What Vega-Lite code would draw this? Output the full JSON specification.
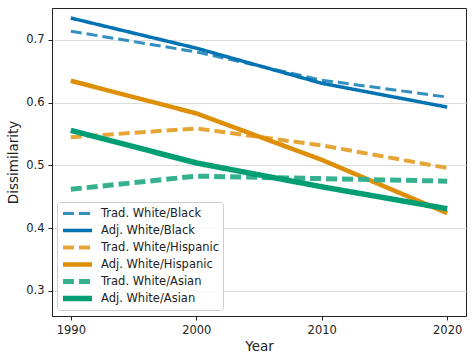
{
  "$schema": "https://vega.github.io/schema/vega-lite/v6.json",
  "width": 414,
  "height": 308,
  "autosize": {"type": "none"},
  "padding": {"left": 52, "top": 8, "right": 8, "bottom": 45},
  "background": "white",
  "config": {
    "font": "DejaVu Sans",
    "view": {"stroke": "#222", "strokeWidth": 1},
    "axis": {
      "labelFont": "DejaVu Sans",
      "titleFont": "DejaVu Sans",
      "labelFontSize": 11.5,
      "titleFontSize": 13.5,
      "titleFontWeight": "normal",
      "labelColor": "#222",
      "titleColor": "#222",
      "tickColor": "#222",
      "domainColor": "#222",
      "tickSize": 4
    },
    "legend": {
      "labelFont": "DejaVu Sans",
      "labelFontSize": 11.5,
      "labelColor": "#222"
    }
  },
  "data": {
    "values": [
      {"series": "Trad. White/Black", "year": 1990, "value": 0.714},
      {"series": "Trad. White/Black", "year": 2000, "value": 0.681},
      {"series": "Trad. White/Black", "year": 2010, "value": 0.636},
      {"series": "Trad. White/Black", "year": 2020, "value": 0.609},
      {"series": "Adj. White/Black", "year": 1990, "value": 0.735},
      {"series": "Adj. White/Black", "year": 2000, "value": 0.687},
      {"series": "Adj. White/Black", "year": 2010, "value": 0.631},
      {"series": "Adj. White/Black", "year": 2020, "value": 0.593},
      {"series": "Trad. White/Hispanic", "year": 1990, "value": 0.545},
      {"series": "Trad. White/Hispanic", "year": 2000, "value": 0.559},
      {"series": "Trad. White/Hispanic", "year": 2010, "value": 0.532},
      {"series": "Trad. White/Hispanic", "year": 2020, "value": 0.496},
      {"series": "Adj. White/Hispanic", "year": 1990, "value": 0.635},
      {"series": "Adj. White/Hispanic", "year": 2000, "value": 0.583},
      {"series": "Adj. White/Hispanic", "year": 2010, "value": 0.509},
      {"series": "Adj. White/Hispanic", "year": 2020, "value": 0.424},
      {"series": "Trad. White/Asian", "year": 1990, "value": 0.462},
      {"series": "Trad. White/Asian", "year": 2000, "value": 0.483},
      {"series": "Trad. White/Asian", "year": 2010, "value": 0.479},
      {"series": "Trad. White/Asian", "year": 2020, "value": 0.475},
      {"series": "Adj. White/Asian", "year": 1990, "value": 0.556},
      {"series": "Adj. White/Asian", "year": 2000, "value": 0.504},
      {"series": "Adj. White/Asian", "year": 2010, "value": 0.466},
      {"series": "Adj. White/Asian", "year": 2020, "value": 0.431}
    ]
  },
  "layer": [
    {
      "mark": {"type": "line", "strokeCap": "butt", "strokeJoin": "round"},
      "encoding": {
        "x": {
          "field": "year",
          "type": "quantitative",
          "scale": {"domain": [1988.5, 2021.5], "nice": false, "zero": false},
          "axis": {"values": [1990, 2000, 2010, 2020], "format": "d", "grid": false, "title": "Year", "titlePadding": 4, "labelPadding": 4}
        },
        "y": {
          "field": "value",
          "type": "quantitative",
          "scale": {"domain": [0.26, 0.751], "nice": false, "zero": false},
          "axis": {"values": [0.3, 0.4, 0.5, 0.6, 0.7], "format": ".1f", "grid": true, "gridColor": "#dddddd", "gridWidth": 1, "title": "Dissimilarity", "titlePadding": 5, "labelPadding": 4}
        },
        "color": {
          "field": "series",
          "type": "nominal",
          "scale": {
            "domain": ["Trad. White/Black", "Adj. White/Black", "Trad. White/Hispanic", "Adj. White/Hispanic", "Trad. White/Asian", "Adj. White/Asian"],
            "range": ["#348fc1", "#0173b2", "#e5a537", "#de8f05", "#35b18f", "#029e73"]
          },
          "legend": {
            "title": null,
            "orient": "none",
            "legendX": 5,
            "legendY": 194,
            "symbolType": "stroke",
            "symbolSize": 841,
            "clipHeight": 17,
            "rowPadding": 0,
            "labelOffset": 6,
            "padding": 3,
            "fillColor": "rgba(255,255,255,0.85)",
            "strokeColor": "#cccccc",
            "cornerRadius": 3
          }
        },
        "strokeDash": {
          "field": "series",
          "type": "nominal",
          "scale": {
            "domain": ["Trad. White/Black", "Adj. White/Black", "Trad. White/Hispanic", "Adj. White/Hispanic", "Trad. White/Asian", "Adj. White/Asian"],
            "range": [[11, 5], [1, 0], [11, 5], [1, 0], [11, 5], [1, 0]]
          }
        },
        "strokeWidth": {
          "field": "series",
          "type": "nominal",
          "scale": {
            "domain": ["Trad. White/Black", "Adj. White/Black", "Trad. White/Hispanic", "Adj. White/Hispanic", "Trad. White/Asian", "Adj. White/Asian"],
            "range": [3, 5.5, 3, 5.5, 3, 5.5]
          }
        },
        "order": {"field": "year"}
      }
    }
  ]
}
